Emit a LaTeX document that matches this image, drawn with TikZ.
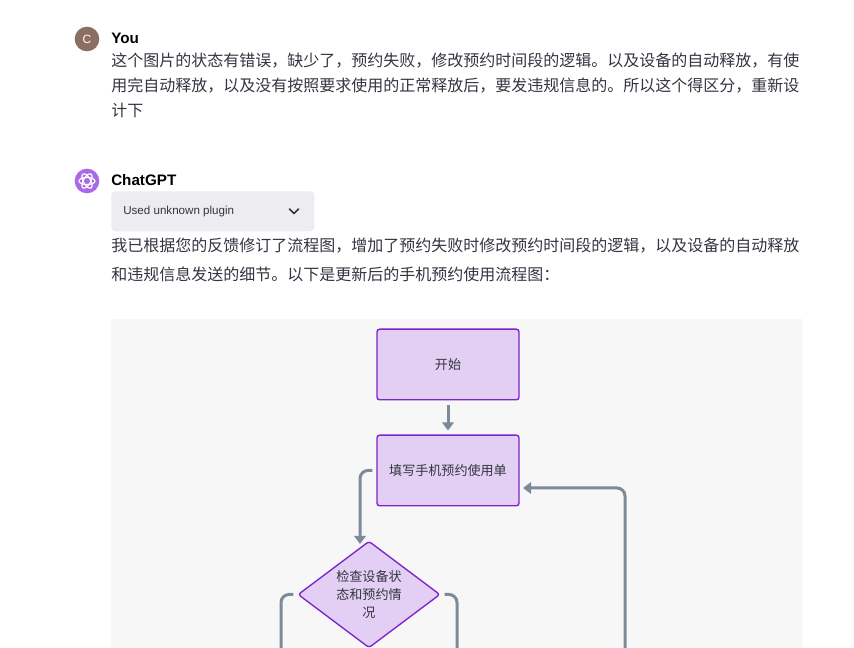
\documentclass[tikz,border=0pt]{standalone}
\usepackage{fontspec}
\setmainfont{Noto Sans CJK SC}
\newfontfamily\latinfont{Liberation Sans}
\usetikzlibrary{shapes.geometric,arrows.meta}
\definecolor{ink}{HTML}{343541}
\definecolor{boxfill}{HTML}{E2CFF3}
\definecolor{boxline}{HTML}{7E22CE}
\definecolor{wire}{HTML}{7D8A99}
\definecolor{panel}{HTML}{F7F7F7}
\definecolor{chip}{HTML}{ECECF1}
\definecolor{userav}{HTML}{8B6F63}
\definecolor{botav}{HTML}{AB68E8}
\tikzset{
  x=0.75pt,y=-0.75pt,
  bodytext/.style={anchor=west,inner sep=0pt,text=ink,font=\fontsize{12}{12}\selectfont},
  speaker/.style={anchor=west,inner sep=0pt,text=black,font=\latinfont\bfseries\fontsize{11.4}{11.4}\selectfont},
  flowbox/.style={draw=boxline,fill=boxfill,line width=1pt,rounded corners=2pt,minimum width=106.5pt,minimum height=53pt,inner sep=0pt,text=ink,font=\fontsize{9.8}{9.8}\selectfont},
  flowdia/.style={diamond,aspect=1.34,draw=boxline,fill=boxfill,line width=1pt,rounded corners=2pt,minimum width=106.5pt,minimum height=80pt,inner sep=0pt,align=center,text=ink,font=\fontsize{9.8}{13.2}\selectfont},
  wirearrow/.style={draw=wire,line width=2.25pt,rounded corners=6pt,-{Triangle[length=6pt,width=8.5pt]}},
  wireplain/.style={draw=wire,line width=2.25pt,rounded corners=6pt},
  avatar/.style={circle,minimum size=18.5pt,inner sep=0pt},
}
\begin{document}
\begin{tikzpicture}
\useasboundingbox (0,0) rectangle (854,648);
\fill[white] (0,0) rectangle (854,648);
% chat header
\node[avatar,fill=userav,text=white,font=\latinfont\fontsize{9}{9}\selectfont] (uav) at (87,39) {C};
\node[speaker] (you) at (111,38.5) {You};
\node[bodytext] (l1) at (111,61) {这个图片的状态有错误，缺少了，预约失败，修改预约时间段的逻辑。以及设备的自动释放，有使};
\node[bodytext] (l2) at (111,85.5) {用完自动释放，以及没有按照要求使用的正常释放后，要发违规信息的。所以这个得区分，重新设};
\node[bodytext] (l3) at (111,110) {计下};
\node[avatar,fill=botav] (bav) at (87,181) {};
\foreach \a in {0,60,120}
  \draw[white,line width=0.9pt,rotate around={\a:(bav.center)}] (bav.center) ellipse [x radius=8,y radius=3.6];
\node[speaker] (gpt) at (111,180) {ChatGPT};
\node[fill=chip,rounded corners=3pt,minimum width=152.25pt,minimum height=30pt,inner sep=0pt,anchor=north west] (chipbox) at (111,191) {};
\node[anchor=west,inner sep=0pt,text=ink,font=\latinfont\fontsize{8.7}{9}\selectfont] (chiptext) at (123,212) {Used unknown plugin};
\coordinate (chev) at (294,211);
\draw[ink,line width=1.2pt,line cap=round,line join=round] ([shift={(-4.5,-2)}]chev) -- ([shift={(0,2.5)}]chev) -- ([shift={(4.5,-2)}]chev);
\node[bodytext] (r1) at (111,246) {我已根据您的反馈修订了流程图，增加了预约失败时修改预约时间段的逻辑，以及设备的自动释放};
\node[bodytext] (r2) at (111,274) {和违规信息发送的细节。以下是更新后的手机预约使用流程图：};
% panel
\fill[panel] (111,319) rectangle (803,648);
\node[flowbox] (start) at (448,364.5) {开始};
\node[flowbox] (fill) at (448,470.5) {填写手机预约使用单};
\node[flowdia] (check) at (369,594.5) {检查设备状\\态和预约情\\况};
\coordinate (checkin) at (360,544);
\coordinate (fillin) at (523,488);
\coordinate (loopfoot) at (625,649);
\coordinate (leftfoot) at (281,649);
\coordinate (rightfoot) at (457,649);
\draw[wirearrow,shorten <=3.5pt,shorten >=3pt] (start) -- (fill);
\draw[wirearrow,shorten <=3pt] (fill.west) -| (checkin);
\draw[wirearrow] (loopfoot) |- (fillin);
\draw[wireplain,shorten <=3pt] (check.west) -| (leftfoot);
\draw[wireplain,shorten <=3pt] (check.east) -| (rightfoot);
\end{tikzpicture}
\end{document}
